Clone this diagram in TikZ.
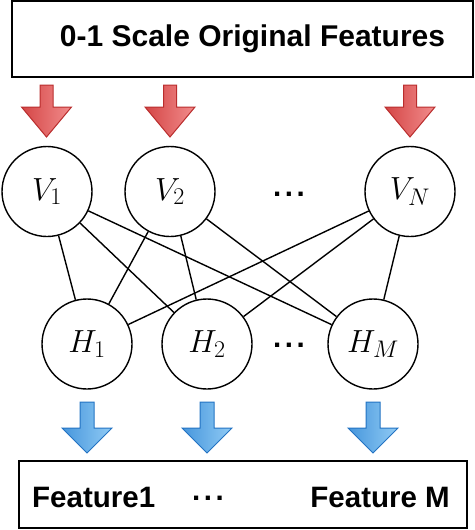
\documentclass[tikz,border=0pt]{standalone}
\usepackage{fix-cm}
\usepackage{fontspec}
\setsansfont{Liberation Sans}
\DeclareMathSizes{32}{32}{24}{18}
\usetikzlibrary{positioning}
\usepackage{xcolor}

\definecolor{redleft}{RGB}{212,70,70}
\definecolor{redright}{RGB}{242,140,140}
\definecolor{redline}{RGB}{185,45,45}
\definecolor{blueleft}{RGB}{70,150,220}
\definecolor{blueright}{RGB}{145,203,245}
\definecolor{blueline}{RGB}{35,115,195}

\tikzset{
  unit/.style={draw, circle, line width=1.4pt, minimum size=90pt, inner sep=0pt, font=\fontsize{32}{38}\selectfont},
  featbox/.style={draw, line width=1.4pt, inner sep=0pt, font=\sffamily\bfseries\fontsize{30}{36}\selectfont},
  feattext/.style={inner sep=0pt, font=\sffamily\bfseries\fontsize{29.5}{35}\selectfont},
  inarrow/.style={draw=redline, line width=1pt, left color=redleft, right color=redright},
  outarrow/.style={draw=blueline, line width=1pt, left color=blueleft, right color=blueright}
}

\begin{document}
\begin{tikzpicture}[x=1pt, y=-1pt]
  \useasboundingbox (0,0) rectangle (474,530);

  % Input box
  \node[featbox, minimum width=461pt, minimum height=76pt] (orig) at (242.5,39) {\hspace*{20pt}0-1 Scale Original Features};

  % Visible units
  \node[unit] (v1) at (47,191.5) {$V_1$};
  \node[unit] (v2) at (170,191.5) {$V_2$};
  \node[unit] (vn) at (410,191.5) {$V_N$};
  \node[feattext, anchor=base] (vdots) at (289,196) {.\hspace{3.5pt}.\hspace{3.5pt}.};

  % Hidden units
  \node[unit] (h1) at (87,344) {$H_1$};
  \node[unit] (h2) at (207,344) {$H_2$};
  \node[unit] (hm) at (373,344) {$H_M$};
  \node[feattext, anchor=base] (hdots) at (289,347.5) {.\hspace{3.5pt}.\hspace{3.5pt}.};

  % Output box
  \node[featbox, minimum width=448pt, minimum height=67pt] (out) at (243,494.5) {};
  \node[feattext, anchor=west] (f1) at (32,497) {Feature1};
  \node[feattext, anchor=base] (fdots) at (208,500) {.\hspace{3.5pt}.\hspace{3.5pt}.};
  \node[feattext, anchor=east] (fm) at (450,497) {Feature M};

  % Connections
  \foreach \v in {v1,v2,vn}
    \foreach \h in {h1,h2,hm}
      \draw[line width=1.4pt] (\v) -- (\h);

  % Arrows
  \foreach \x in {46.5,170,410}
    \draw[inarrow] (\x-6.5,85) -- (\x+6.5,85) -- (\x+6.5,107) -- (\x+25,107) -- (\x,137) -- (\x-25,107) -- (\x-6.5,107) -- cycle;
  \foreach \x in {87,207,373}
    \draw[outarrow] (\x-7,402) -- (\x+7,402) -- (\x+7,428) -- (\x+25,428) -- (\x,453) -- (\x-25,428) -- (\x-7,428) -- cycle;
\end{tikzpicture}
\end{document}
